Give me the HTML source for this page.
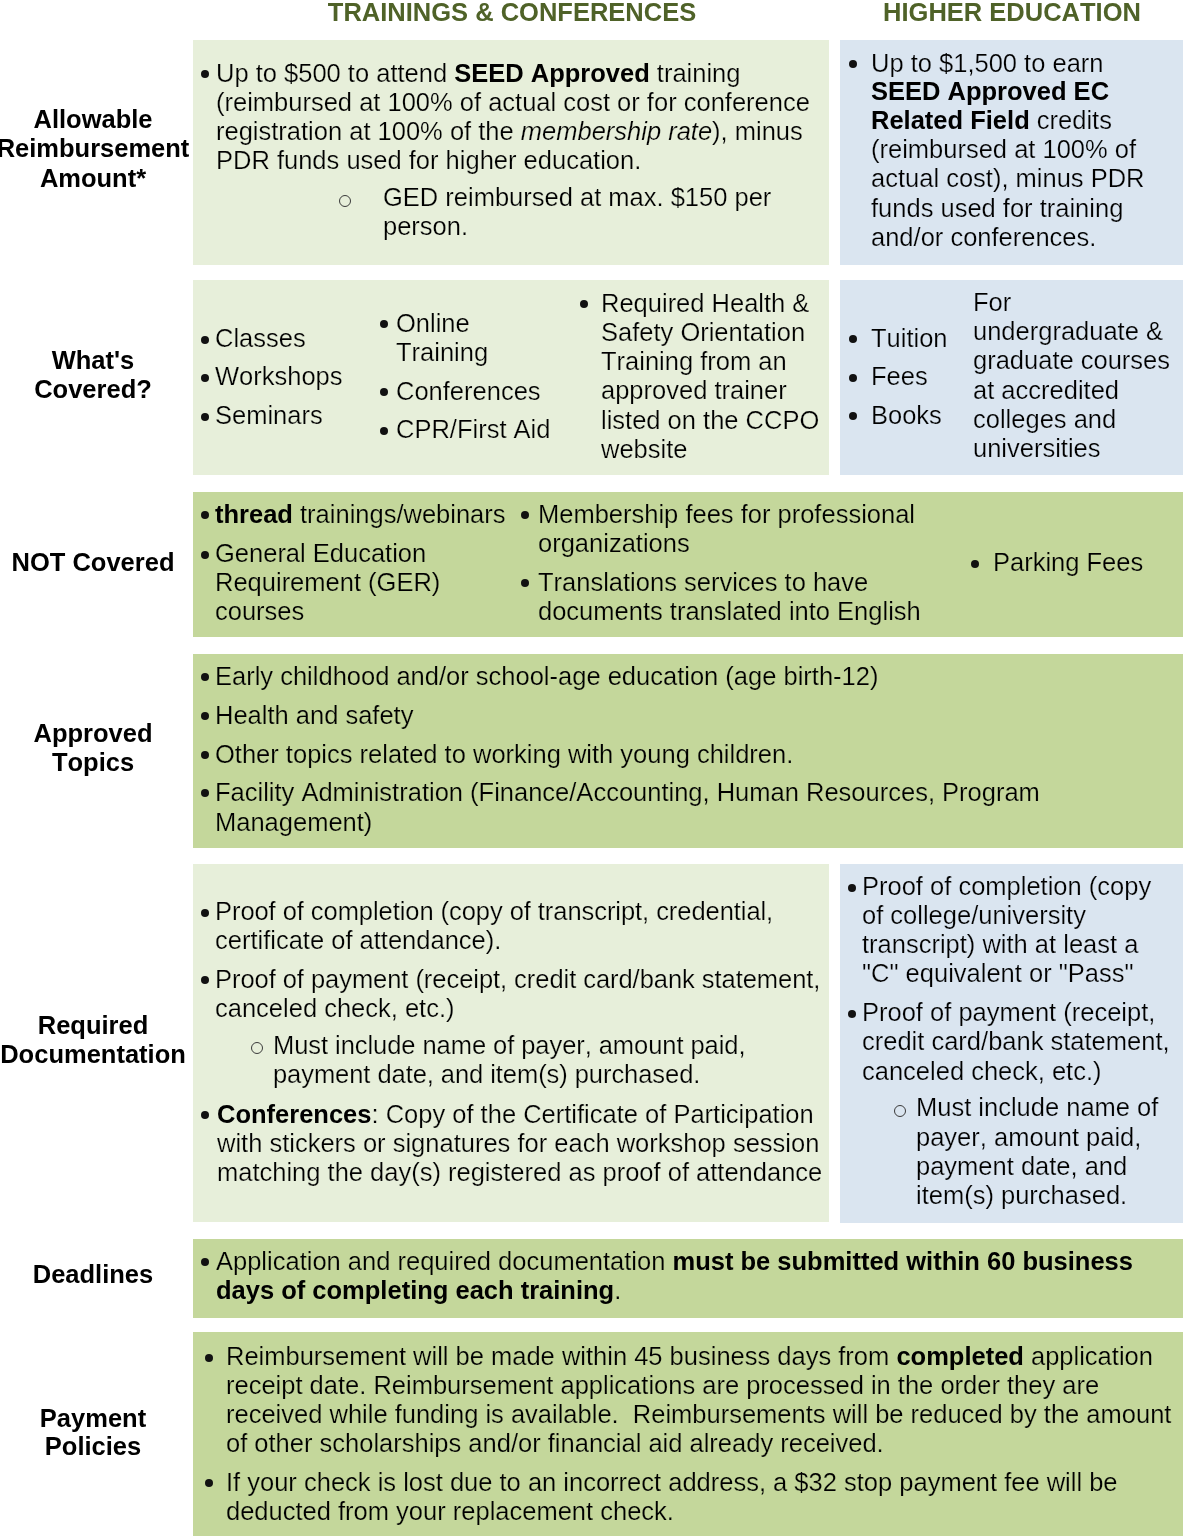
<!DOCTYPE html>
<html><head><meta charset="utf-8"><title>PDR Reimbursement</title>
<style>
html,body{margin:0;padding:0;background:#fff;}
body{width:1184px;height:1536px;position:relative;overflow:hidden;font-family:"Liberation Sans",sans-serif;color:#000;font-kerning:none;}
.bx{position:absolute;}
.t,.c{position:absolute;white-space:pre;font-size:25.5px;line-height:30px;height:30px;will-change:transform;-webkit-text-stroke-width:0.22px;}
.c{width:600px;text-align:center;}
.d{position:absolute;width:8px;height:8px;border-radius:50%;background:#111;}
.o{position:absolute;width:10px;height:10px;border-radius:50%;border:1px solid #3a3a3a;box-sizing:content-box;}
b{font-weight:bold;-webkit-text-stroke-width:0;}
.c{-webkit-text-stroke-width:0;}
</style></head><body>

<div class="bx" style="left:193px;top:40px;width:636px;height:225px;background:#e7efda"></div>
<div class="bx" style="left:840px;top:40px;width:343px;height:225px;background:#dae5f0"></div>
<div class="bx" style="left:193px;top:280px;width:636px;height:195px;background:#e7efda"></div>
<div class="bx" style="left:840px;top:280px;width:343px;height:195px;background:#dae5f0"></div>
<div class="bx" style="left:193px;top:492px;width:990px;height:145px;background:#c4d79b"></div>
<div class="bx" style="left:193px;top:654px;width:990px;height:194px;background:#c4d79b"></div>
<div class="bx" style="left:193px;top:864px;width:636px;height:358px;background:#e7efda"></div>
<div class="bx" style="left:840px;top:864px;width:343px;height:359px;background:#dae5f0"></div>
<div class="bx" style="left:193px;top:1239px;width:990px;height:79px;background:#c4d79b"></div>
<div class="bx" style="left:193px;top:1332px;width:990px;height:204px;background:#c4d79b"></div>
<div class="c" style="left:212px;top:-3px;-webkit-text-stroke-color:#ffffff;font-weight:bold;color:#4f6228">TRAININGS &amp; CONFERENCES</div>
<div class="c" style="left:712px;top:-3px;-webkit-text-stroke-color:#ffffff;font-weight:bold;color:#4f6228">HIGHER EDUCATION</div>
<div class="c" style="left:-207.5px;top:104px;-webkit-text-stroke-color:#ffffff;font-weight:bold">Allowable</div>
<div class="c" style="left:-207.5px;top:133px;-webkit-text-stroke-color:#ffffff;font-weight:bold">Reimbursement</div>
<div class="c" style="left:-207.5px;top:163px;-webkit-text-stroke-color:#ffffff;font-weight:bold">Amount*</div>
<div class="c" style="left:-207.5px;top:345px;-webkit-text-stroke-color:#ffffff;font-weight:bold">What's</div>
<div class="c" style="left:-207.5px;top:374px;-webkit-text-stroke-color:#ffffff;font-weight:bold">Covered?</div>
<div class="c" style="left:-207.5px;top:547px;-webkit-text-stroke-color:#ffffff;font-weight:bold">NOT Covered</div>
<div class="c" style="left:-207.5px;top:718px;-webkit-text-stroke-color:#ffffff;font-weight:bold">Approved</div>
<div class="c" style="left:-207.5px;top:747px;-webkit-text-stroke-color:#ffffff;font-weight:bold">Topics</div>
<div class="c" style="left:-207.5px;top:1010px;-webkit-text-stroke-color:#ffffff;font-weight:bold">Required</div>
<div class="c" style="left:-207.5px;top:1039px;-webkit-text-stroke-color:#ffffff;font-weight:bold">Documentation</div>
<div class="c" style="left:-207.5px;top:1259px;-webkit-text-stroke-color:#ffffff;font-weight:bold">Deadlines</div>
<div class="c" style="left:-207.5px;top:1403px;-webkit-text-stroke-color:#ffffff;font-weight:bold">Payment</div>
<div class="c" style="left:-207.5px;top:1431px;-webkit-text-stroke-color:#ffffff;font-weight:bold">Policies</div>
<div class="t" style="left:216px;top:58px;-webkit-text-stroke-color:#e7efda;">Up to $500 to attend <b>SEED Approved</b> training</div>
<div class="t" style="left:216px;top:87px;-webkit-text-stroke-color:#e7efda;">(reimbursed at 100% of actual cost or for conference</div>
<div class="t" style="left:216px;top:116px;-webkit-text-stroke-color:#e7efda;">registration at 100% of the <i>membership rate</i>), minus</div>
<div class="t" style="left:216px;top:145px;-webkit-text-stroke-color:#e7efda;">PDR funds used for higher education.</div>
<div class="t" style="left:382.5px;top:182px;-webkit-text-stroke-color:#e7efda;">GED reimbursed at max. $150 per</div>
<div class="t" style="left:382.5px;top:211px;-webkit-text-stroke-color:#e7efda;">person.</div>
<div class="t" style="left:871px;top:48px;-webkit-text-stroke-color:#dae5f0;">Up to $1,500 to earn</div>
<div class="t" style="left:871px;top:76px;-webkit-text-stroke-color:#dae5f0;"><b>SEED Approved EC</b></div>
<div class="t" style="left:871px;top:105px;-webkit-text-stroke-color:#dae5f0;"><b>Related Field</b> credits</div>
<div class="t" style="left:871px;top:134px;-webkit-text-stroke-color:#dae5f0;">(reimbursed at 100% of</div>
<div class="t" style="left:871px;top:163px;-webkit-text-stroke-color:#dae5f0;">actual cost), minus PDR</div>
<div class="t" style="left:871px;top:193px;-webkit-text-stroke-color:#dae5f0;">funds used for training</div>
<div class="t" style="left:871px;top:222px;-webkit-text-stroke-color:#dae5f0;">and/or conferences.</div>
<div class="t" style="left:215px;top:323px;-webkit-text-stroke-color:#e7efda;">Classes</div>
<div class="t" style="left:215px;top:361px;-webkit-text-stroke-color:#e7efda;">Workshops</div>
<div class="t" style="left:215px;top:400px;-webkit-text-stroke-color:#e7efda;">Seminars</div>
<div class="t" style="left:396px;top:308px;-webkit-text-stroke-color:#e7efda;">Online</div>
<div class="t" style="left:396px;top:337px;-webkit-text-stroke-color:#e7efda;">Training</div>
<div class="t" style="left:396px;top:376px;-webkit-text-stroke-color:#e7efda;">Conferences</div>
<div class="t" style="left:396px;top:414px;-webkit-text-stroke-color:#e7efda;">CPR/First Aid</div>
<div class="t" style="left:601px;top:288px;-webkit-text-stroke-color:#e7efda;">Required Health &amp;</div>
<div class="t" style="left:601px;top:317px;-webkit-text-stroke-color:#e7efda;">Safety Orientation</div>
<div class="t" style="left:601px;top:346px;-webkit-text-stroke-color:#e7efda;">Training from an</div>
<div class="t" style="left:601px;top:375px;-webkit-text-stroke-color:#e7efda;">approved trainer</div>
<div class="t" style="left:601px;top:405px;-webkit-text-stroke-color:#e7efda;">listed on the CCPO</div>
<div class="t" style="left:601px;top:434px;-webkit-text-stroke-color:#e7efda;">website</div>
<div class="t" style="left:871px;top:323px;-webkit-text-stroke-color:#dae5f0;">Tuition</div>
<div class="t" style="left:871px;top:361px;-webkit-text-stroke-color:#dae5f0;">Fees</div>
<div class="t" style="left:871px;top:400px;-webkit-text-stroke-color:#dae5f0;">Books</div>
<div class="t" style="left:972.5px;top:287px;-webkit-text-stroke-color:#dae5f0;">For</div>
<div class="t" style="left:972.5px;top:316px;-webkit-text-stroke-color:#dae5f0;">undergraduate &amp;</div>
<div class="t" style="left:972.5px;top:345px;-webkit-text-stroke-color:#dae5f0;">graduate courses</div>
<div class="t" style="left:972.5px;top:375px;-webkit-text-stroke-color:#dae5f0;">at accredited</div>
<div class="t" style="left:972.5px;top:404px;-webkit-text-stroke-color:#dae5f0;">colleges and</div>
<div class="t" style="left:972.5px;top:433px;-webkit-text-stroke-color:#dae5f0;">universities</div>
<div class="t" style="left:215px;top:499px;-webkit-text-stroke-color:#c4d79b;"><b>thread</b> trainings/webinars</div>
<div class="t" style="left:215px;top:538px;-webkit-text-stroke-color:#c4d79b;">General Education</div>
<div class="t" style="left:215px;top:567px;-webkit-text-stroke-color:#c4d79b;">Requirement (GER)</div>
<div class="t" style="left:215px;top:596px;-webkit-text-stroke-color:#c4d79b;">courses</div>
<div class="t" style="left:538px;top:499px;-webkit-text-stroke-color:#c4d79b;">Membership fees for professional</div>
<div class="t" style="left:538px;top:528px;-webkit-text-stroke-color:#c4d79b;">organizations</div>
<div class="t" style="left:538px;top:567px;-webkit-text-stroke-color:#c4d79b;">Translations services to have</div>
<div class="t" style="left:538px;top:596px;-webkit-text-stroke-color:#c4d79b;">documents translated into English</div>
<div class="t" style="left:993px;top:547px;-webkit-text-stroke-color:#c4d79b;">Parking Fees</div>
<div class="t" style="left:215px;top:661px;-webkit-text-stroke-color:#c4d79b;">Early childhood and/or school-age education (age birth-12)</div>
<div class="t" style="left:215px;top:700px;-webkit-text-stroke-color:#c4d79b;">Health and safety</div>
<div class="t" style="left:215px;top:739px;-webkit-text-stroke-color:#c4d79b;">Other topics related to working with young children.</div>
<div class="t" style="left:215px;top:777px;-webkit-text-stroke-color:#c4d79b;">Facility Administration (Finance/Accounting, Human Resources, Program</div>
<div class="t" style="left:215px;top:807px;-webkit-text-stroke-color:#c4d79b;">Management)</div>
<div class="t" style="left:215px;top:896px;-webkit-text-stroke-color:#e7efda;letter-spacing:-0.06px">Proof of completion (copy of transcript, credential,</div>
<div class="t" style="left:215px;top:925px;-webkit-text-stroke-color:#e7efda;">certificate of attendance).</div>
<div class="t" style="left:215px;top:964px;-webkit-text-stroke-color:#e7efda;letter-spacing:-0.05px">Proof of payment (receipt, credit card/bank statement,</div>
<div class="t" style="left:215px;top:993px;-webkit-text-stroke-color:#e7efda;">canceled check, etc.)</div>
<div class="t" style="left:273px;top:1030px;-webkit-text-stroke-color:#e7efda;letter-spacing:-0.06px">Must include name of payer, amount paid,</div>
<div class="t" style="left:273px;top:1059px;-webkit-text-stroke-color:#e7efda;letter-spacing:-0.06px">payment date, and item(s) purchased.</div>
<div class="t" style="left:217px;top:1099px;-webkit-text-stroke-color:#e7efda;"><b>Conferences</b>: Copy of the Certificate of Participation</div>
<div class="t" style="left:217px;top:1128px;-webkit-text-stroke-color:#e7efda;">with stickers or signatures for each workshop session</div>
<div class="t" style="left:217px;top:1157px;-webkit-text-stroke-color:#e7efda;">matching the day(s) registered as proof of attendance</div>
<div class="t" style="left:862px;top:871px;-webkit-text-stroke-color:#dae5f0;">Proof of completion (copy</div>
<div class="t" style="left:862px;top:900px;-webkit-text-stroke-color:#dae5f0;">of college/university</div>
<div class="t" style="left:862px;top:929px;-webkit-text-stroke-color:#dae5f0;">transcript) with at least a</div>
<div class="t" style="left:862px;top:958px;-webkit-text-stroke-color:#dae5f0;">"C" equivalent or "Pass"</div>
<div class="t" style="left:862px;top:997px;-webkit-text-stroke-color:#dae5f0;">Proof of payment (receipt,</div>
<div class="t" style="left:862px;top:1026px;-webkit-text-stroke-color:#dae5f0;">credit card/bank statement,</div>
<div class="t" style="left:862px;top:1056px;-webkit-text-stroke-color:#dae5f0;">canceled check, etc.)</div>
<div class="t" style="left:916px;top:1092px;-webkit-text-stroke-color:#dae5f0;">Must include name of</div>
<div class="t" style="left:916px;top:1122px;-webkit-text-stroke-color:#dae5f0;">payer, amount paid,</div>
<div class="t" style="left:916px;top:1151px;-webkit-text-stroke-color:#dae5f0;">payment date, and</div>
<div class="t" style="left:916px;top:1180px;-webkit-text-stroke-color:#dae5f0;">item(s) purchased.</div>
<div class="t" style="left:216px;top:1246px;-webkit-text-stroke-color:#c4d79b;">Application and required documentation <b>must be submitted within 60 business</b></div>
<div class="t" style="left:215.5px;top:1275px;-webkit-text-stroke-color:#c4d79b;"><b>days of completing each training</b>.</div>
<div class="t" style="left:226px;top:1341px;-webkit-text-stroke-color:#c4d79b;">Reimbursement will be made within 45 business days from <b>completed</b> application</div>
<div class="t" style="left:226px;top:1370px;-webkit-text-stroke-color:#c4d79b;">receipt date. Reimbursement applications are processed in the order they are</div>
<div class="t" style="left:226px;top:1399px;-webkit-text-stroke-color:#c4d79b;">received while funding is available.&nbsp; Reimbursements will be reduced by the amount</div>
<div class="t" style="left:226px;top:1428px;-webkit-text-stroke-color:#c4d79b;">of other scholarships and/or financial aid already received.</div>
<div class="t" style="left:226px;top:1467px;-webkit-text-stroke-color:#c4d79b;">If your check is lost due to an incorrect address, a $32 stop payment fee will be</div>
<div class="t" style="left:226px;top:1496px;-webkit-text-stroke-color:#c4d79b;">deducted from your replacement check.</div>
<div class="d" style="left:200.90px;top:69.60px"></div>
<div class="d" style="left:849.20px;top:60.00px"></div>
<div class="d" style="left:200.90px;top:335.80px"></div>
<div class="d" style="left:200.90px;top:374.00px"></div>
<div class="d" style="left:200.90px;top:412.80px"></div>
<div class="d" style="left:379.70px;top:319.80px"></div>
<div class="d" style="left:379.70px;top:388.30px"></div>
<div class="d" style="left:379.70px;top:426.50px"></div>
<div class="d" style="left:580.00px;top:300.10px"></div>
<div class="d" style="left:849.20px;top:335.20px"></div>
<div class="d" style="left:849.20px;top:373.80px"></div>
<div class="d" style="left:849.20px;top:412.40px"></div>
<div class="d" style="left:200.90px;top:511.00px"></div>
<div class="d" style="left:200.90px;top:550.60px"></div>
<div class="d" style="left:520.90px;top:511.30px"></div>
<div class="d" style="left:520.90px;top:578.80px"></div>
<div class="d" style="left:971.30px;top:559.60px"></div>
<div class="d" style="left:201.00px;top:673.30px"></div>
<div class="d" style="left:201.00px;top:712.00px"></div>
<div class="d" style="left:201.00px;top:750.60px"></div>
<div class="d" style="left:201.00px;top:789.30px"></div>
<div class="d" style="left:201.10px;top:908.60px"></div>
<div class="d" style="left:201.10px;top:976.30px"></div>
<div class="d" style="left:200.80px;top:1111.40px"></div>
<div class="d" style="left:847.70px;top:884.40px"></div>
<div class="d" style="left:847.70px;top:1010.40px"></div>
<div class="d" style="left:200.80px;top:1258.10px"></div>
<div class="d" style="left:204.80px;top:1353.60px"></div>
<div class="d" style="left:204.80px;top:1479.30px"></div>
<div class="o" style="left:338.90px;top:194.50px"></div>
<div class="o" style="left:251.20px;top:1041.90px"></div>
<div class="o" style="left:893.70px;top:1105.30px"></div>
</body></html>
